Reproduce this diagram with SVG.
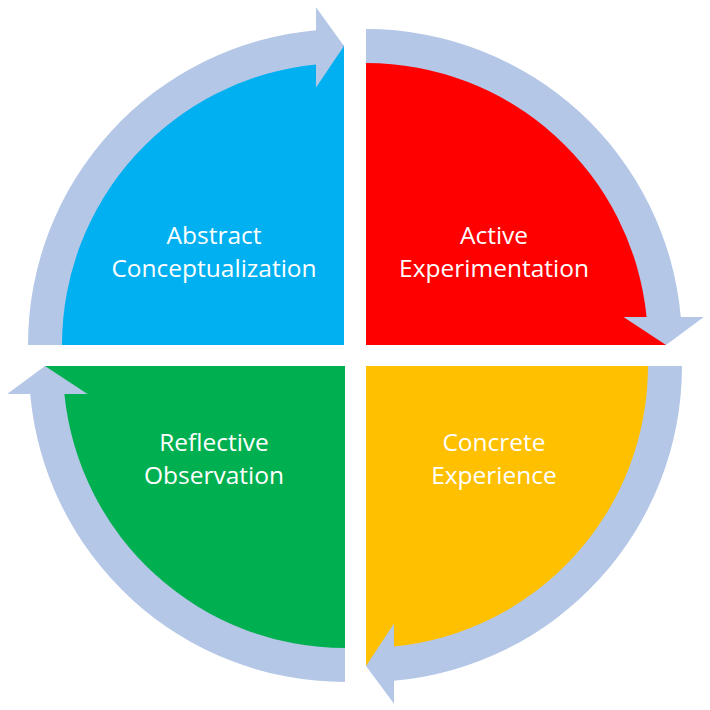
<svg xmlns="http://www.w3.org/2000/svg" width="710" height="710" viewBox="0 0 710 710">
<style>
.lbl{font-family:"Open Sans","Noto Sans",Arial,sans-serif;font-size:24.5px;fill:#ffffff;text-anchor:middle}
.arr{fill:#B4C7E7}
</style>
<rect width="710" height="710" fill="#ffffff"/>
<g id="abstract">
<path d="M344,345 L44,345 A300,300 0 0 1 344,45 Z" fill="#00B0F0"/>
<text class="lbl" x="214" y="244">Abstract</text>
<text class="lbl" x="214" y="277">Conceptualization</text>
</g>
<g id="active">
<path d="M366,345 L366,45 A300,300 0 0 1 666,345 Z" fill="#FF0000"/>
<text class="lbl" x="494" y="244">Active</text>
<text class="lbl" x="494" y="277">Experimentation</text>
</g>
<g id="concrete">
<path d="M366,366 L666,366 A300,300 0 0 1 366,666 Z" fill="#FFC000"/>
<text class="lbl" x="494" y="451">Concrete</text>
<text class="lbl" x="494" y="484">Experience</text>
</g>
<g id="reflective">
<path d="M345,366 L345,666 A300,300 0 0 1 45,366 Z" fill="#00B050"/>
<text class="lbl" x="214" y="451">Reflective</text>
<text class="lbl" x="214" y="484">Observation</text>
</g>
<g id="connectors">
<path class="arr" d="M28,345 A316,316 0 0 1 316,30.2 L316,7.2 L344,46 L316,87.5 L316,64.4 A282,282 0 0 0 62,345 Z"/>
<path class="arr" d="M366,29 A316,316 0 0 1 680.8,317 L703.8,317 L666,345 L623.5,317 L646.6,317 A282,282 0 0 0 366,63 Z"/>
<path class="arr" d="M682,366 A316,316 0 0 1 394,680.8 L394,703.8 L366,666 L394,623.5 L394,646.6 A282,282 0 0 0 648,366 Z"/>
<path class="arr" d="M345,682 A316,316 0 0 1 30.2,394 L7.2,394 L45,366 L87.5,394 L64.4,394 A282,282 0 0 0 345,648 Z"/>
</g>
</svg>
